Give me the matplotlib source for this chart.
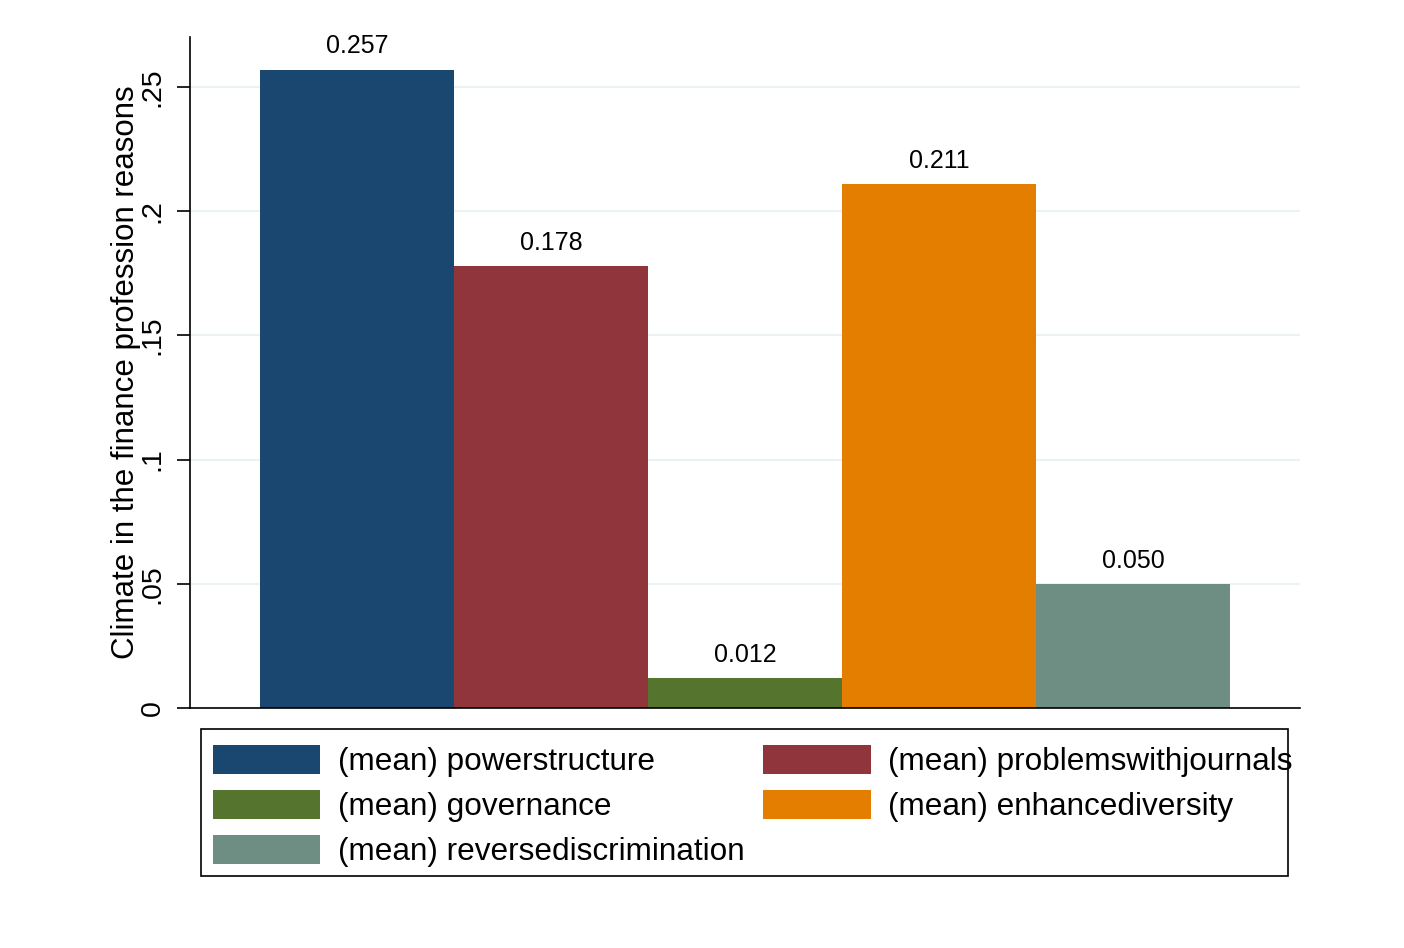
import matplotlib
matplotlib.use("Agg")
import matplotlib.pyplot as plt
from matplotlib.patches import Rectangle

plt.rcParams['font.family'] = ['Liberation Sans', 'DejaVu Sans']

labels = ["(mean) powerstructure", "(mean) problemswithjournals", "(mean) governance",
          "(mean) enhancediversity", "(mean) reversediscrimination"]
values = [0.257, 0.178, 0.012, 0.211, 0.050]
colors = ["#1a476f", "#90353b", "#55752f", "#e37e00", "#6e8e84"]
yticks = [0, 0.05, 0.1, 0.15, 0.2, 0.25]
yticklabels = ["0", ".05", ".1", ".15", ".2", ".25"]

W, H = 1404, 948
fig = plt.figure(figsize=(W / 100, H / 100), dpi=100)
ax = fig.add_axes([190 / W, 1 - 708 / H, (1300 - 190) / W, (708 - 37) / H])

bars = []
for i, (v, c, lab) in enumerate(zip(values, colors, labels)):
    b = ax.bar(i, v, width=1.0, color=c, label=lab, zorder=2)
    bars.append(b)
    ax.annotate(f"{v:.3f}", (i, v), xytext=(0, 8), textcoords="offset points",
                ha="center", va="bottom", fontsize=18)

ax.set_xlim(-0.861, 4.861)
ax.set_ylim(0, 0.2701)
ax.set_yticks(yticks)
ax.set_yticklabels(yticklabels, rotation=90, va="center", fontsize=20.5)
ax.tick_params(axis="y", length=9.4, width=1.2, pad=8)
ax.set_xticks([])
ax.grid(axis="y", color="#eaf2f3", linewidth=1.5, zorder=0)
ax.set_axisbelow(True)
for s in ["top", "right"]:
    ax.spines[s].set_visible(False)
ax.spines["left"].set_linewidth(1.2)
ax.spines["bottom"].set_linewidth(1.2)
ax.set_ylabel("Climate in the finance profession reasons", fontsize=22.5)
ax.yaxis.set_label_coords(-0.0445, 0.5)

# legend filled row by row; text may spill over the frame as in the original
order = [0, 2, 4, 1, 3]
leg = fig.legend([bars[i] for i in order], [labels[i] for i in order], ncol=2,
                 loc="upper left", bbox_to_anchor=(213 / W, 1 - 745 / H),
                 frameon=False, borderpad=0, fontsize=22.7,
                 handlelength=3.4, handleheight=1.05, handletextpad=0.56,
                 columnspacing=0.6, labelspacing=0.4, borderaxespad=0)
fig.add_artist(Rectangle((201 / W, 1 - 876 / H), (1288 - 201) / W, (876 - 729) / H,
                         transform=fig.transFigure, fill=False, edgecolor="black",
                         linewidth=1.2))

fig.savefig("out.png", dpi=100, facecolor="white")
